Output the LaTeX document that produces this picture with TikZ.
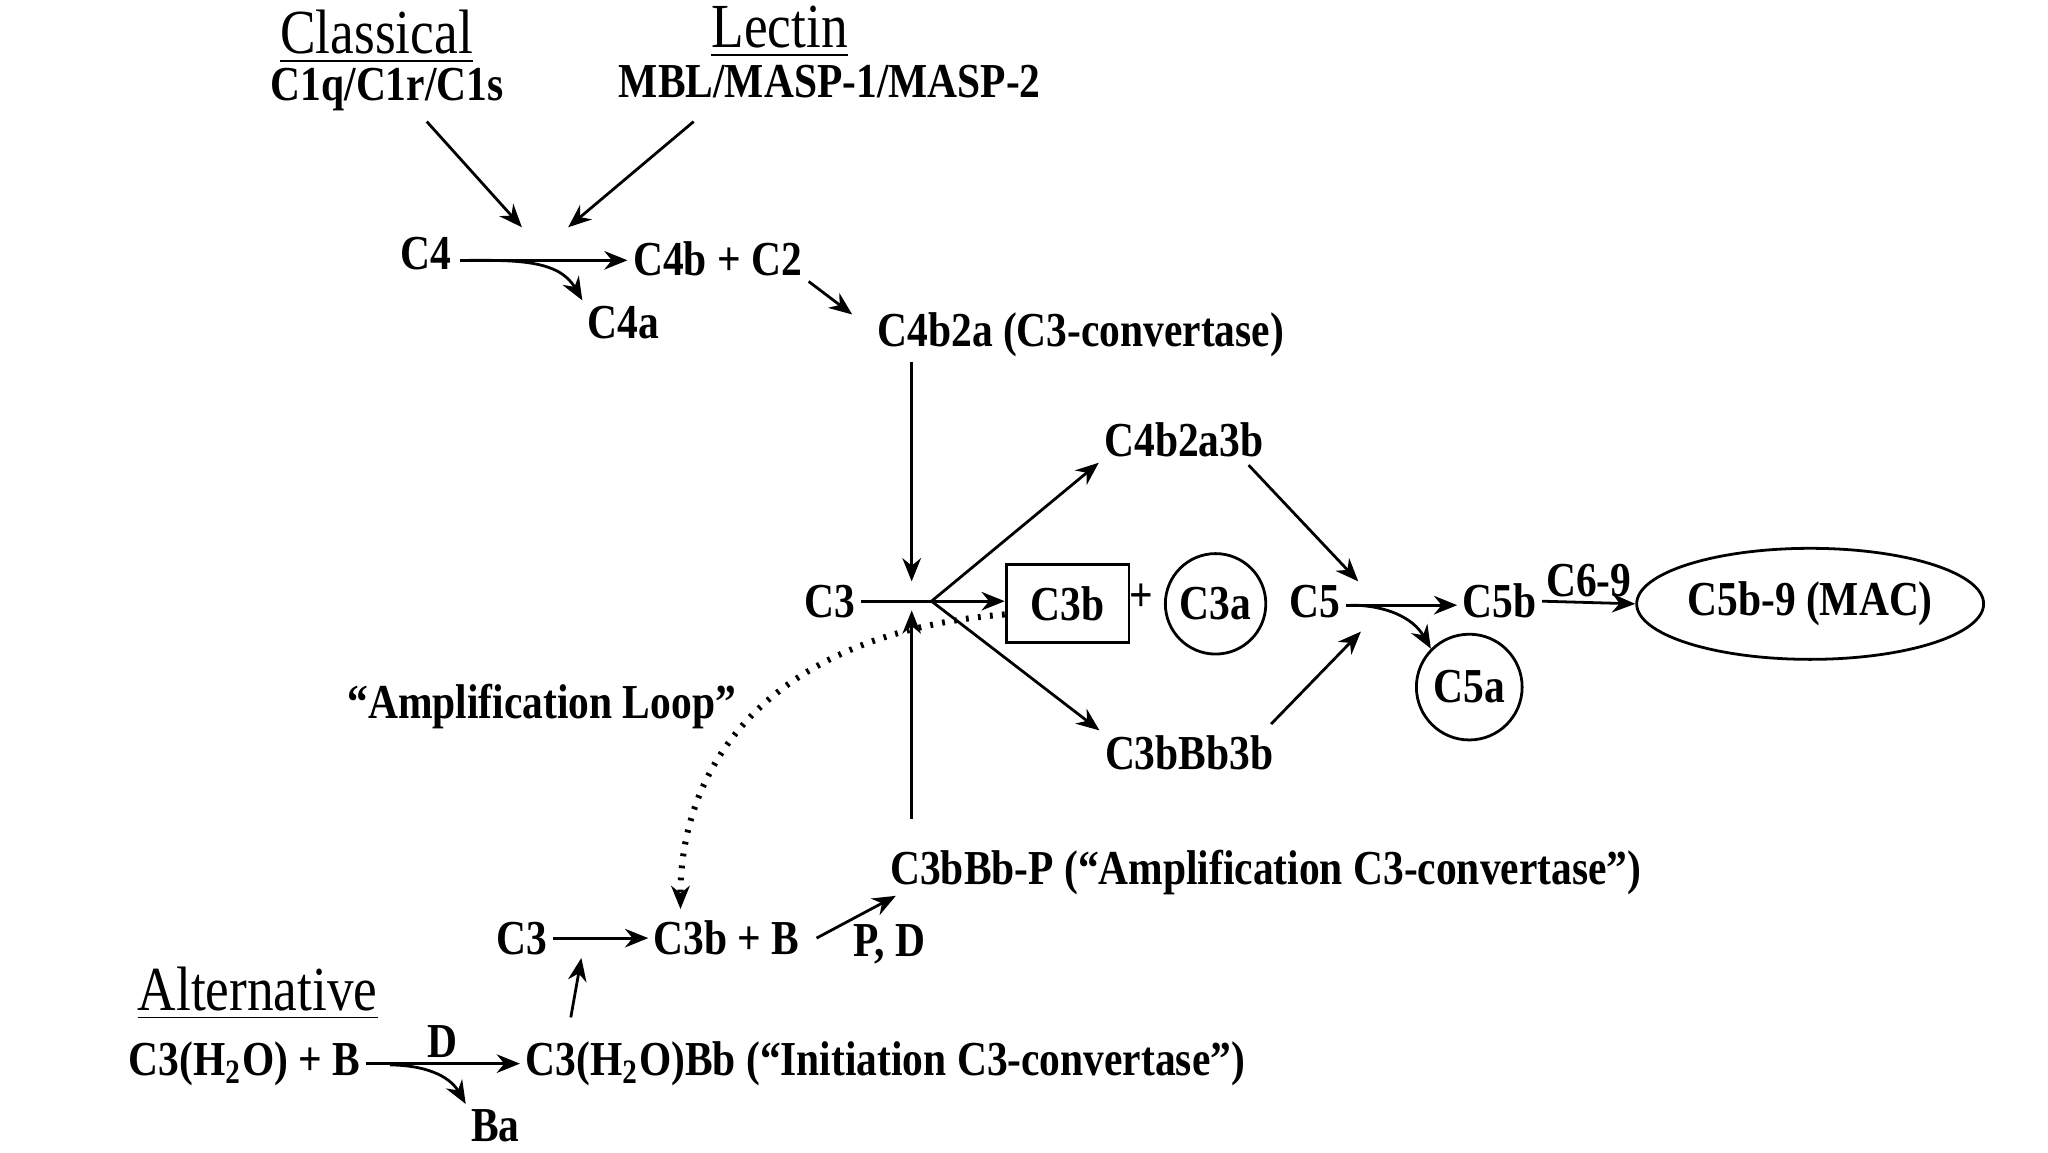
\documentclass[tikz,border=0pt]{standalone}
\usepackage{fontspec}
\setmainfont{Liberation Serif}[FakeStretch=0.85]
\usetikzlibrary{arrows.meta,shapes.geometric}
\begin{document}
\begin{tikzpicture}[x=0.01cm,y=-0.01cm,
  t/.style={font=\bfseries\fontsize{10.5}{12}\selectfont,inner sep=1pt},
  hd/.style={font=\fontsize{13.5}{15}\selectfont,inner sep=1pt},
  ar/.style={-{Stealth[length=5pt,width=4pt]},line width=0.6pt}]
\useasboundingbox (0,0) rectangle (1550,872);
\node[hd] (cl) at (285,28) {\underline{Classical}};
\node[t] (c1) at (293,68) {C1q/C1r/C1s};
\node[hd] (le) at (590,24) {\underline{Lectin}};
\node[t] (mbl) at (628,62) {MBL/MASP-1/MASP-2};
\coordinate (m1) at (395,172); \coordinate (m2) at (430,172);
\draw[ar] (323,92) -- (m1);
\draw[ar] (525,92) -- (m2);
\node[t] (c4) at (322,192) {C4};
\node[t] (c4b) at (543,196) {C4b + C2};
\node[t] (c4a) at (472,244) {C4a};
\draw[ar] (348,197) -- (c4b.west|-0,197);
\draw[ar] (355,197) to[out=0,in=120] (c4a.north west);
\node[t] (c4b2a) at (818,253) {C4b2a (C3-convertase)};
\draw[ar] (612,213) -- (645,238);
\node[t] (c3) at (628,455) {C3};
\coordinate (j) at (705,455);
\draw[ar] (c4b2a.south-|690,0) -- (690,440);
\node[t,draw,line width=0.6pt,minimum width=93*0.2845pt,minimum height=59*0.2845pt,inner sep=0pt] (c3b) at (808,457) {C3b};
\node[t] (pl) at (864,452) {+};
\node[t,draw,circle,line width=0.6pt,minimum size=76*0.2845pt,inner sep=0pt] (c3a) at (920,457) {C3a};
\draw[ar] (c3.east|-0,455) -- (c3b.west|-0,455);
\node[t] (c4b2a3b) at (896,333) {C4b2a3b};
\node[t] (c3bbb3b) at (900,570) {C3bBb3b};
\draw[ar] (j) -- (c4b2a3b.south west);
\draw[ar] (j) -- (c3bbb3b.north west);
\node[t] (c5) at (995,455) {C5};
\draw[ar] (945,352) -- (1028,440);
\draw[ar] (962,548) -- (1030,478);
\node[t] (c5b) at (1135,455) {C5b};
\draw[ar] (c5.east|-0,458) -- (c5b.west|-0,458);
\node[t,draw,circle,line width=0.6pt,minimum size=80*0.2845pt,inner sep=0pt] (c5a) at (1112,520) {C5a};
\draw[ar] (1022,458) to[out=0,in=120] (c5a.north west);
\node[t,draw,ellipse,line width=0.6pt,minimum width=230*0.2845pt,minimum height=84*0.2845pt,inner sep=0pt] (mac) at (1370,457) {C5b-9 (MAC)};
\draw[ar] (c5b.east) -- node[t,above] {C6-9} (mac.west);
\node[t] (cp) at (958,660) {C3bBb-P (``Amplification C3-convertase'')};
\draw[ar] (690,620) -- (690,462);
\node[t] (loop) at (410,535) {``Amplification Loop''};
\node[t] (c3bot) at (395,710) {C3};
\node[t] (c3bB) at (550,710) {C3b + B};
\draw[ar] (c3bot.east) -- (c3bB.west);
\draw[ar,dotted,line width=1.3pt] (c3b.west) ++(0,8) .. controls (580,480) and (515,580) .. (515,688);
\draw[ar] (618,710) -- (678,678);
\node[t] (pd) at (673,715) {P, D};
\node[hd] (alt) at (195,752) {\underline{Alternative}};
\node[t] (h2o) at (185,805) {C3(H\textsubscript{2}O) + B};
\node[t] (h2obb) at (670,805) {C3(H\textsubscript{2}O)Bb (``Initiation C3-convertase'')};
\draw[ar] (h2o.east) -- node[t,above] {D} (h2obb.west);
\node[t] (ba) at (375,852) {Ba};
\draw[ar] (295,806) to[out=0,in=120] (ba.north west);
\draw[ar] (432,770) -- (440,725);
\end{tikzpicture}
\end{document}
